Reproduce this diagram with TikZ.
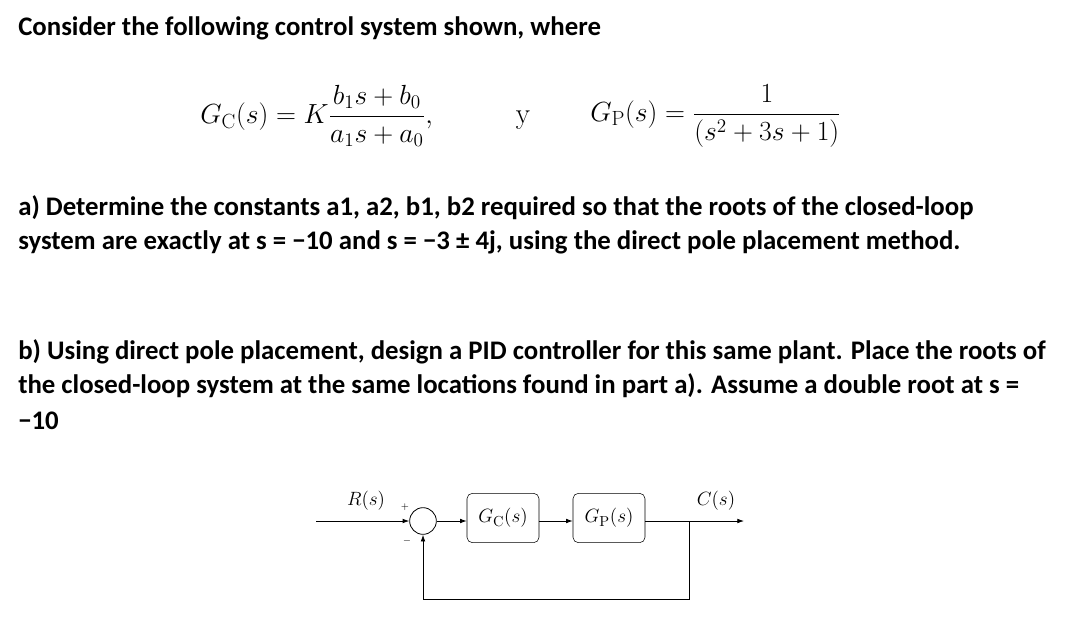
\documentclass[tikz,border=0pt]{standalone}
\usepackage{fontspec}
\usepackage{amsmath}
\newfontfamily\carfont{Carlito}
\usetikzlibrary{arrows.meta}
\begin{document}
\begin{tikzpicture}[x=0.75pt,y=-0.75pt,
  txt/.style={anchor=west,inner sep=0,font=\carfont\bfseries\fontsize{20.1}{24}\selectfont},
  eq/.style={inner sep=0,font=\fontsize{22}{26}\selectfont},
  blk/.style={draw,rounded corners=4pt,minimum width=54pt,minimum height=37pt,inner sep=0,font=\fontsize{15.5}{18}\selectfont},
  lbl/.style={inner sep=0,font=\fontsize{15.5}{18}\selectfont},
  arr/.style={-{Latex[length=5pt,width=3.5pt]},line width=0.6pt},
  ln/.style={line width=0.6pt}]
\useasboundingbox (0,0) rectangle (1080,631);
\fill[white] (0,0) rectangle (1080,631);
\node[txt] (t1) at (18,28) {Consider the following control system shown, where};
\node[eq,anchor=west] (e1) at (200,116) {$G_{\mathrm{C}}(s)=K\dfrac{b_1s+b_0}{a_1s+a_0},$};
\node[eq] (e2) at (523,120) {y};
\node[eq,anchor=west] (e3) at (590,116) {$G_{\mathrm{P}}(s)=\dfrac{1}{(s^2+3s+1)}$};
\node[txt] (t2) at (18,208) {a) Determine the constants a1, a2, b1, b2 required so that the roots of the closed-loop};
\node[txt] (t3) at (18,242) {system are exactly at s = −10 and s = −3 ± 4j, using the direct pole placement method.};
\node[txt] (t4) at (18,352) {b) Using direct pole placement, design a PID controller for this same plant. Place the roots of};
\node[txt] (t5) at (18,386) {the closed-loop system at the same locations found in part a). Assume a double root at s =};
\node[txt] (t6) at (18,421) {−10};
\coordinate (in) at (316,521);
\node[draw,circle,minimum size=20pt,inner sep=0,ln] (sum) at (423,521) {};
\node[blk] (gc) at (503,518) {$G_{\mathrm{C}}(s)$};
\node[blk] (gp) at (609,518) {$G_{\mathrm{P}}(s)$};
\coordinate (br) at (689,521);
\coordinate (out) at (744,521);
\coordinate (bot) at (689,599);
\coordinate (botl) at (423,599);
\node[lbl] (r) at (366,501) {$R(s)$};
\node[lbl] (c) at (716,501) {$C(s)$};
\node[inner sep=0,font=\scriptsize] (p) at (405,507) {$+$};
\node[inner sep=0,font=\scriptsize] (m) at (407,541) {$-$};
\draw[arr] (in) -- (sum);
\draw[arr] (sum) -- (gc.west|-sum);
\draw[arr] (gc.east|-sum) -- (gp.west|-sum);
\draw[arr] (gp.east|-sum) -- (out);
\draw[arr] (br) -- (bot) -- (botl) -- (sum);
\end{tikzpicture}
\end{document}
